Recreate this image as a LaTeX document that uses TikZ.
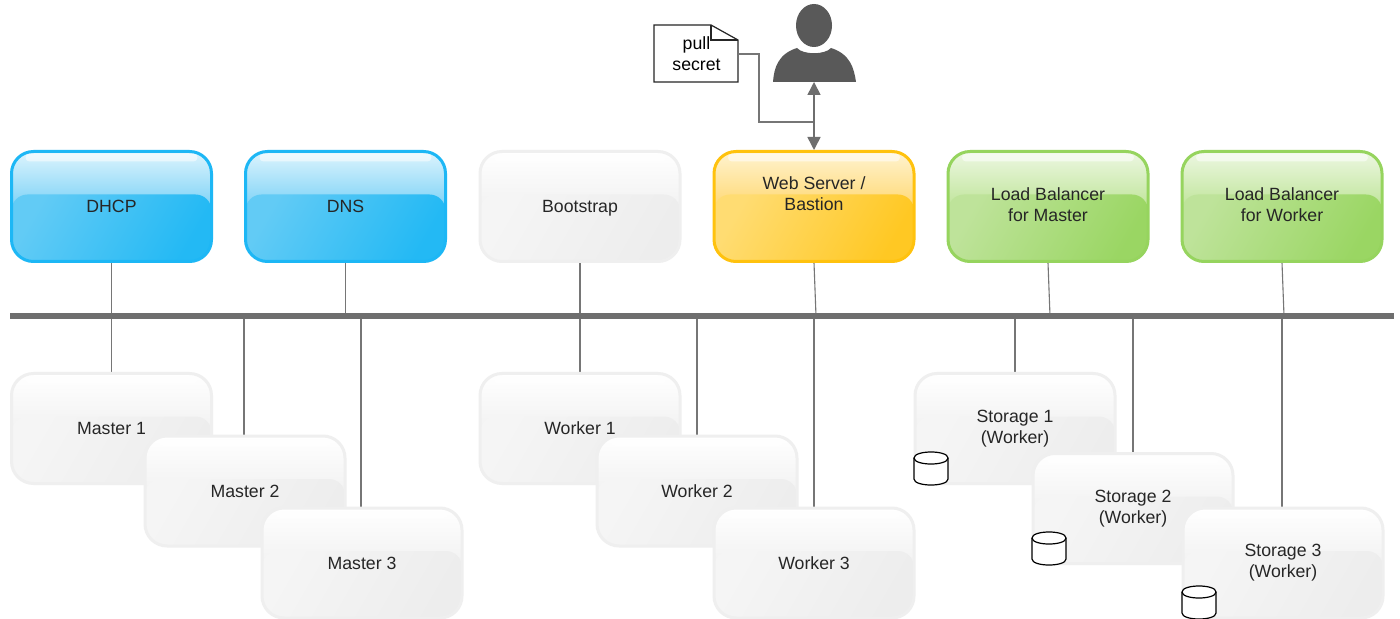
\documentclass[tikz,border=0pt]{standalone}
\usepackage{fontspec}
\setmainfont{Liberation Sans}
\usetikzlibrary{calc,backgrounds,arrows.meta}
\tikzset{
  x=0.5pt,y=-0.5pt,
  glass/.style n args={5}{rectangle,rounded corners=11pt,draw=#1,line width=1.5pt,
    minimum width=100pt,minimum height=55pt,inner sep=0pt,align=center,
    font=\fontsize{8.85pt}{10.5pt}\selectfont\rule{0pt}{8.3pt},text=black!85,
    execute at end node={\rule[-2.1pt]{0pt}{2.1pt}},
    path picture={
      \shade[sharp corners,top color=#2,bottom color=#3,middle color=#3] (path picture bounding box.north west) rectangle ($(path picture bounding box.north east)+(0,-30pt)$);
      \shade[left color=#4,right color=#5,shading angle=60]
        (path picture bounding box.south west)
        [rounded corners=8pt] -- ($(path picture bounding box.north west)+(0,-21.5pt)$)
        -- ($(path picture bounding box.north east)+(0,-21.5pt)$)
        [sharp corners] -- (path picture bounding box.south east) -- cycle;
      \fill[white,opacity=.55,rounded corners=2pt]
        ($(path picture bounding box.north west)+(7pt,-1pt)$) rectangle
        ($(path picture bounding box.north east)+(-7pt,-5pt)$);
    }},
  bluebox/.style={glass={c1}{bluetop}{bluemid}{bluelow}{bluehigh}},
  yellowbox/.style={glass={c2}{yeltop}{yelmid}{yellow1}{yellow2}},
  greenbox/.style={glass={c3}{grntop}{grnmid}{green1}{green2}},
  greybox/.style={glass={c4}{white}{gry1}{gry2}{gry3}},
  wire/.style={draw=wirec,line width=.55pt},
  busline/.style={draw=busc,line width=3pt},
  tiplink/.style={draw=busc,line width=.8pt,{Triangle[length=6.5pt,width=6.5pt]}-{Triangle[length=6.5pt,width=6.5pt]}},
  doc/.style={draw=black!85,line width=.6pt,fill=white,line join=miter},
  disk/.style={draw=black,line width=.6pt,fill=white},
}
\definecolor{c1}{HTML}{1DB7F5}
\definecolor{bluetop}{HTML}{DDF4FD}
\definecolor{bluemid}{HTML}{7ED3F7}
\definecolor{bluelow}{HTML}{62CBF5}
\definecolor{bluehigh}{HTML}{23B9F4}
\definecolor{c2}{HTML}{FFC20E}
\definecolor{yeltop}{HTML}{FFF3D0}
\definecolor{yelmid}{HTML}{FFD975}
\definecolor{yellow1}{HTML}{FFDC72}
\definecolor{yellow2}{HTML}{FFC823}
\definecolor{c3}{HTML}{96D45E}
\definecolor{grntop}{HTML}{EDF7E2}
\definecolor{grnmid}{HTML}{C0E59B}
\definecolor{green1}{HTML}{BEE39A}
\definecolor{green2}{HTML}{9AD663}
\definecolor{c4}{HTML}{EFEFEF}
\definecolor{gry1}{HTML}{F2F2F2}
\definecolor{gry2}{HTML}{F5F5F5}
\definecolor{gry3}{HTML}{EDEDED}
\definecolor{wirec}{HTML}{767676}
\definecolor{busc}{HTML}{6E6E6E}
\definecolor{personc}{HTML}{595959}
\newcommand{\diskat}[2]{%
  \draw[disk] (#1,#2+6) -- (#1,#2+27) .. controls (#1,#2+35) and (#1+34,#2+35) .. (#1+34,#2+27)
    -- (#1+34,#2+6) .. controls (#1+34,#2-2) and (#1,#2-2) .. (#1,#2+6) -- cycle;
  \draw[disk,fill=none] (#1,#2+6) .. controls (#1,#2+14) and (#1+34,#2+14) .. (#1+34,#2+6);
}
\begin{document}
\begin{tikzpicture}
\useasboundingbox (0,0) rectangle (1400,619);
% top row
\node[bluebox]   (dhcp) at (111.5,206.5) {DHCP};
\node[bluebox]   (dns)  at (345.5,206.5) {DNS};
\node[greybox]   (boot) at (580,206.5) {Bootstrap};
\node[yellowbox] (web)  at (814,206.5) {Web Server /\\Bastion\\\mbox{}};
\node[greenbox]  (lbm)  at (1048,206.5) {Load Balancer\\for Master};
\node[greenbox]  (lbw)  at (1282,206.5) {Load Balancer\\for Worker};
% lower row
\node[greybox] (m1) at (111.5,428.5) {Master 1};
\node[greybox] (m2) at (245,491) {Master 2};
\node[greybox] (m3) at (362,563) {Master 3};
\node[greybox] (w1) at (580,428.5) {Worker 1};
\node[greybox] (w2) at (697,491) {Worker 2};
\node[greybox] (w3) at (814,563) {Worker 3};
\node[greybox] (s1) at (1015,428.5) {Storage 1\\(Worker)};
\node[greybox] (s2) at (1133,508.5) {Storage 2\\(Worker)};
\node[greybox] (s3) at (1283,563) {Storage 3\\(Worker)};
\diskat{914}{452}
\diskat{1032}{532}
\diskat{1182}{586}
% bus anchors
\coordinate (busL) at (10,316);
\coordinate (busR) at (1394,316);
\coordinate (bdns) at (345.5,316);
\coordinate (bm2) at (244,316);
\coordinate (bm3) at (361,316);
\coordinate (bw2) at (697,316);
\coordinate (bw3) at (814,316);
\coordinate (bweb) at (816,316);
\coordinate (blbm) at (1050,316);
\coordinate (blbw) at (1284,316);
\coordinate (bs1) at (1015,316);
\coordinate (bs2) at (1133,316);
\coordinate (bs3) at (1282,316);
% user
\coordinate (userfoot) at (814,82);
\fill[personc] (814,25.5) ellipse [x radius=18,y radius=21.5];
\fill[personc] (773,82) .. controls (774,68) and (778,54) .. (797,48)
  .. controls (803,55) and (825,55) .. (831,48)
  .. controls (850,54) and (854,68) .. (856,82) -- cycle;
% note
\draw[doc] (654,25) -- (711,25) -- (738,40) -- (738,82) -- (654,82) -- cycle;
\draw[doc,fill=none] (711,25) -- (711,40) -- (738,40);
\node[font=\fontsize{8.85pt}{10.5pt}\selectfont,align=center,inner sep=0pt] (note) at (696.5,53.5) {pull\\secret};
\coordinate (bend0) at (738,54);
\coordinate (bend1) at (759,54);
\coordinate (bend2) at (759,122);
\coordinate (joinpt) at (814,122);
\draw[wire,line width=.8pt] (bend0) -- (bend1) -- (bend2) -- (joinpt);
\draw[tiplink] (userfoot) -- (web.north);
\begin{scope}[on background layer]
  \fill[white] (0,0) rectangle (1400,619);
  \draw[wire] (dhcp.south) -- (m1.north);
  \draw[wire] (boot.south) -- (w1.north);
  \draw[wire] (dns.south) -- (bdns);
  \draw[wire] (bm2) -- (bm2 |- m2.north);
  \draw[wire] (bm3) -- (bm3 |- m3.north);
  \draw[wire] (bw2) -- (bw2 |- w2.north);
  \draw[wire] (bw3) -- (w3.north);
  \draw[wire] (web.south) -- (bweb);
  \draw[wire] (lbm.south) -- (blbm);
  \draw[wire] (lbw.south) -- (blbw);
  \draw[wire] (bs1) -- (s1.north);
  \draw[wire] (bs2) -- (s2.north);
  \draw[wire] (bs3) -- (bs3 |- s3.north);
  \draw[busline] (busL) -- (busR);
\end{scope}
\end{tikzpicture}
\end{document}
